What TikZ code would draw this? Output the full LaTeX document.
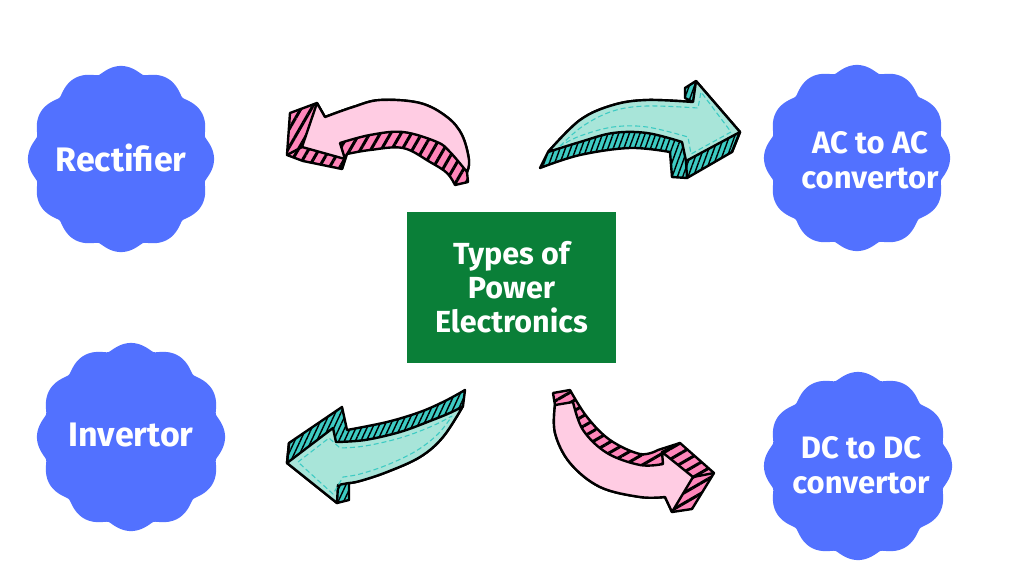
\documentclass[tikz,border=0pt]{standalone}
\usepackage{fontspec}
\setmainfont{Fira Sans}
\usetikzlibrary{patterns.meta}
\definecolor{blobblue}{HTML}{5271FF}
\definecolor{boxgreen}{RGB}{10,127,56}
\definecolor{pinkL}{HTML}{FFCCE3}
\definecolor{pinkD}{HTML}{FF86BA}
\definecolor{tealL}{HTML}{A8E5D9}
\definecolor{tealD}{HTML}{3DCBC3}
\tikzset{
  blob/.style={fill=blobblue},
  lbl/.style={text=white,font=\bfseries\fontsize{34}{35}\selectfont,align=center,inner sep=0pt},
  lbltwo/.style={text=white,font=\bfseries\fontsize{31}{35}\selectfont,align=center,inner sep=0pt},
  titlebox/.style={fill=boxgreen,minimum width=209pt,minimum height=151pt,inner sep=0pt,text=white,font=\bfseries\fontsize{30.5}{34}\selectfont,align=center},
  arrowline/.style={draw=black,line width=2.4pt,line join=round,line cap=round},
  pinkside/.style={arrowline,fill=pinkD,postaction={pattern={Lines[angle=#1,distance=9pt,line width=3pt]},pattern color=black}},
  tealside/.style={arrowline,fill=tealD,postaction={pattern={Lines[angle=#1,distance=5pt,line width=1.4pt]},pattern color=black}},
  pinkface/.style={arrowline,fill=pinkL},
  tealface/.style={arrowline,fill=tealL},
  dashline/.style={draw=tealD,line width=1.1pt,dash pattern=on 5pt off 3pt,line join=round}
}
\newcommand\scallopblob[3]{\fill[blob] plot[domain=0:360,samples=361,variable=\t] ({#1+(#3+7*sqrt(cos(6*\t)^2+0.015))*cos(\t)},{#2+(#3+7*sqrt(cos(6*\t)^2+0.015))*sin(\t)}) -- cycle;}
\begin{document}
\begin{tikzpicture}[x=1pt,y=-1pt]
\useasboundingbox (0,0) rectangle (1024,576);
\fill[white] (0,0) rectangle (1024,576);

% scalloped badges
\scallopblob{121}{159}{86}
\scallopblob{131}{437}{87}
\scallopblob{857}{158}{86}
\scallopblob{858}{466}{87}

\node[lbl] (rect) at (121,158) {Rectifier};
\node[lbl] (inv) at (131,435) {Invertor};
\node[lbltwo] (acac) at (870,160) {AC to AC\\convertor};
\node[lbltwo] (dcdc) at (861,465) {DC to DC\\convertor};

% central box
\node[titlebox] (types) at (511.5,287.5) {Types of\\Power\\Electronics};

% ---- Arrow A (pink, top left)
\draw[pinkside=60] (287,155) -- (290,113) -- (317,103) -- (325,117)
  -- plot[smooth,tension=0.6] coordinates {(325,117) (353,107) (380,100) (420,103) (447,117) (462,135) (469,160) (467,172)}
  -- (468,182) -- (455,185)
  -- plot[smooth,tension=0.6] coordinates {(455,185) (447,173) (430,162) (403,148) (370,150) (347,154)}
  -- (342,169) -- (303,161) -- cycle;
\draw[pinkface] (302,147) -- (317,103) -- (325,117)
  -- plot[smooth,tension=0.6] coordinates {(325,117) (353,107) (380,100) (420,103) (447,117) (462,135) (469,160) (467,172)}
  -- plot[smooth,tension=0.6] coordinates {(467,172) (450,152) (437,142) (403,132) (370,135) (340,143)}
  -- (345,159) -- cycle;
\draw[arrowline] (302,147) -- (287,155);
\draw[arrowline] (345,159) -- (342,169);

% ---- Arrow B (teal, top right)
\draw[tealside=70] (540,168) -- (548,152)
  -- plot[smooth,tension=0.6] coordinates {(548,152) (580,120) (613,105) (647,100) (693,102)}
  -- (685,98) -- (685,88) -- (696,81) -- (740,132) -- (732,152) -- (687,178) -- (672,177) -- (670,152)
  -- plot[smooth,tension=0.6] coordinates {(670,152) (630,148) (580,155) (540,168)} -- cycle;
\draw[tealface] (548,152)
  -- plot[smooth,tension=0.6] coordinates {(548,152) (580,120) (613,105) (647,100) (693,102)}
  -- (696,81) -- (740,132) -- (686,161) -- (682,142)
  -- plot[smooth,tension=0.6] coordinates {(682,142) (647,133) (613,133) (580,142) (548,152)} -- cycle;
\draw[dashline] plot[smooth,tension=0.6] coordinates {(560,146) (583,126) (613,111) (647,106) (698,108)}
  -- (701,92) -- (731,132) -- (691,154) -- (688,137)
  -- plot[smooth,tension=0.6] coordinates {(688,137) (647,127) (613,127) (580,136) (560,146)};
\draw[arrowline] (686,161) -- (687,178);
\draw[arrowline] (740,132) -- (732,152);

% ---- Arrow C (teal, bottom left)
\draw[tealside=65] (287,463) -- (289,443) -- (342,407) -- (347,430)
  -- plot[smooth,tension=0.6] coordinates {(347,430) (387,422) (420,412) (445,401) (465,390)}
  -- (463,406)
  -- plot[smooth,tension=0.6] coordinates {(463,406) (443,437) (420,457) (387,472) (360,481) (349,483)}
  -- (349,500) -- (337,503) -- cycle;
\draw[tealface] (287,463) -- (333,428) -- (336,442)
  -- plot[smooth,tension=0.6] coordinates {(336,442) (365,440) (400,432) (430,421) (452,412) (463,406)}
  -- plot[smooth,tension=0.6] coordinates {(463,406) (443,437) (420,457) (387,472) (360,481) (349,483)}
  -- (338,485) -- (337,503) -- cycle;
\draw[dashline] (298,462) -- (329,438) -- (340,448)
  -- plot[smooth,tension=0.6] coordinates {(340,448) (365,446) (400,438) (430,427) (452,416)}
  -- plot[smooth,tension=0.6] coordinates {(452,416) (438,434) (416,451) (387,465) (360,474) (343,477)}
  -- (333,494) -- cycle;
\draw[arrowline] (287,463) -- (289,443);
\draw[arrowline] (349,483) -- (349,500);

% ---- Arrow D (pink, bottom right)
\draw[pinkside=30] (553,393) -- (570,390)
  -- plot[smooth,tension=0.6] coordinates {(570,390) (587,417) (610,440) (640,454) (658,450)}
  -- (680,443) -- (714,473) -- (692,509) -- (672,512) -- (665,497)
  -- plot[smooth,tension=0.6] coordinates {(665,497) (640,497) (600,487) (570,463) (555,433) (555,405)} -- cycle;
\draw[pinkface] (555,405)
  -- plot[smooth,tension=0.6] coordinates {(555,405) (555,433) (570,463) (600,487) (640,497) (665,497)}
  -- (672,512) -- (693,477) -- (662,452) -- (663,464)
  -- plot[smooth,tension=0.6] coordinates {(663,464) (640,465) (607,453) (583,430) (573,402)} -- cycle;
\draw[arrowline] (693,477) -- (714,473);
\draw[arrowline] (662,452) -- (680,443);
\end{tikzpicture}
\end{document}
